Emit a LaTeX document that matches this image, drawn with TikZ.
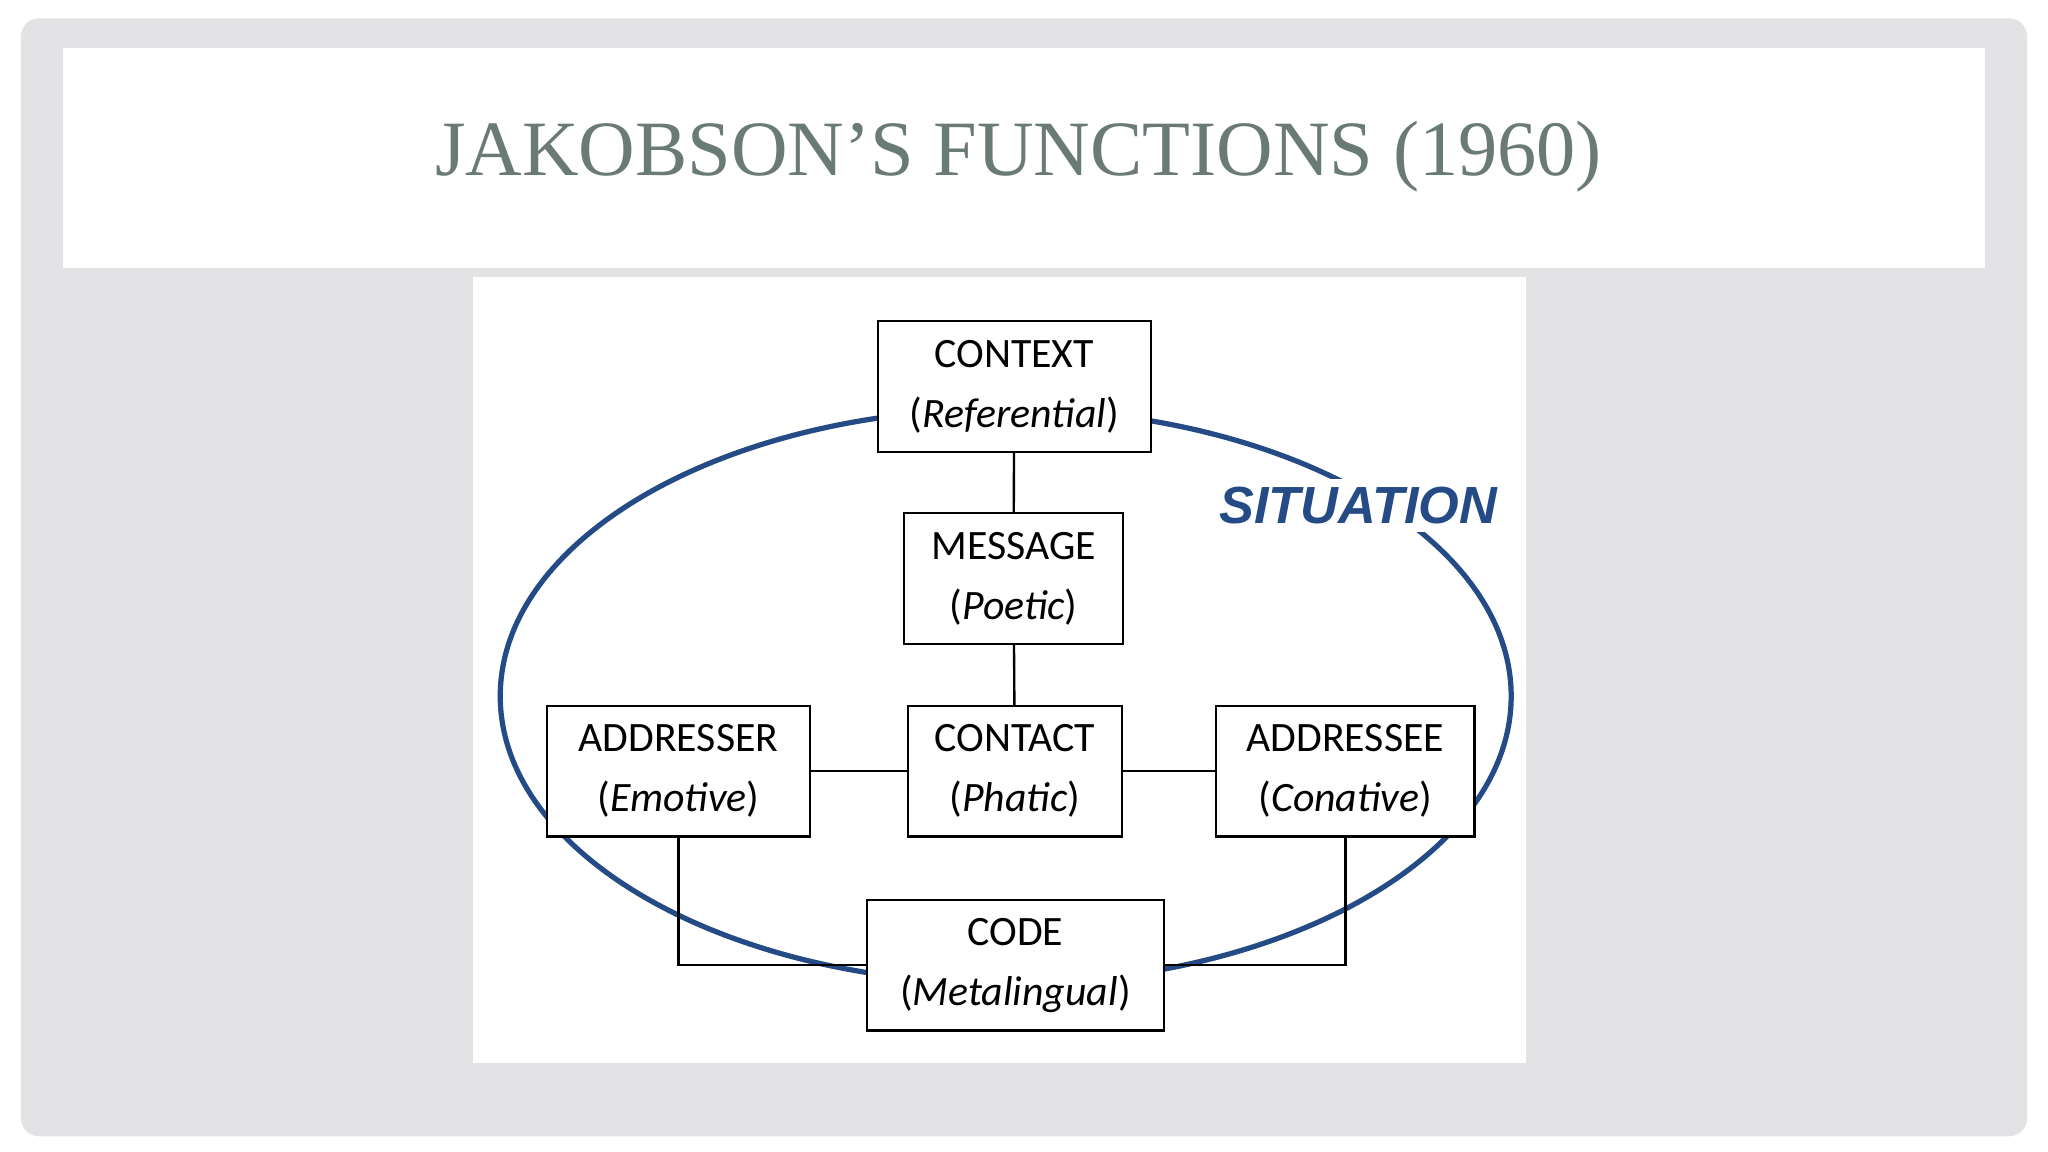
\documentclass[tikz,border=0pt]{standalone}
\usepackage{fontspec}
\setmainfont{Liberation Serif}
\newfontfamily\boxfont{Carlito}
\newfontfamily\sitfont{Liberation Sans}
\definecolor{bg}{HTML}{E3E3E6}
\definecolor{titlec}{HTML}{6A7A76}
\definecolor{ell}{HTML}{244B85}
\tikzset{fn/.style={draw=black,line width=1.8pt,fill=white,minimum width=#1,minimum height=100pt,inner sep=0pt,align=center,font=\boxfont\fontsize{32}{46}\selectfont},
 ln/.style={line width=1.8pt}}
\begin{document}
\begin{tikzpicture}[x=1pt,y=-1pt]
\useasboundingbox (0,0) rectangle (1568,882);
\fill[white] (0,0) rectangle (1568,882);
\fill[bg,rounded corners=14pt] (16,14) rectangle (1552,870);
\fill[white!96!bg] (48,37) rectangle (1520,205);
\fill[white] (64,48) rectangle (1502,192);
\node[text=titlec,font=\fontsize{60}{70}\selectfont] (title) at (780,120) {JAKOBSON’S FUNCTIONS (1960)};
\fill[white] (362,212) rectangle (1168,814);
\draw[ell,line width=4pt] (770,533) ellipse [x radius=387, y radius=220];
\node[fill=white,text=ell,inner sep=6pt,font=\sitfont\bfseries\itshape\fontsize{40}{44}\selectfont] (sit) at (1040,387) {SITUATION};
\node[fn=209pt] (context) at (776.5,296) {CONTEXT\\(\textit{Referential})};
\node[fn=168pt] (message) at (776,443) {MESSAGE\\(\textit{Poetic})};
\node[fn=201pt] (addresser) at (519.5,590.5) {ADDRESSER\\(\textit{Emotive})};
\node[fn=164pt] (contact) at (777,590.5) {CONTACT\\(\textit{Phatic})};
\node[fn=198pt] (addressee) at (1030,590.5) {ADDRESSEE\\(\textit{Conative})};
\node[fn=227pt] (code) at (777.5,739) {CODE\\(\textit{Metalingual})};
\draw[ln] (context) -- (message);
\draw[ln] (message) -- (contact);
\draw[ln] (addresser) -- (contact);
\draw[ln] (contact) -- (addressee);
\draw[ln] (addresser.south) |- (code.west);
\draw[ln] (addressee.south) |- (code.east);
\end{tikzpicture}
\end{document}
